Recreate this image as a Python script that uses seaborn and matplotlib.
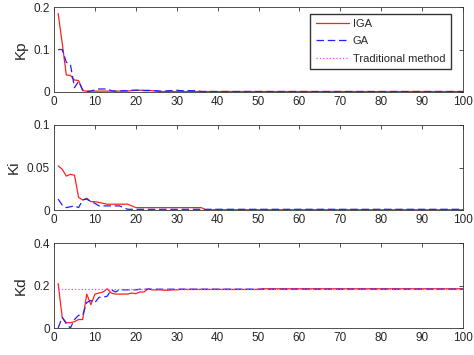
import seaborn as sns
import pandas as pd
import numpy as np
import matplotlib.pyplot as plt
from matplotlib.lines import Line2D

gen = list(range(1, 101))

kp_iga = [0.185, 0.115, 0.04, 0.039, 0.028, 0.027, 0.003, 0.002, 0.002, 0.002,
          0.002, 0.002, 0.002, 0.002, 0.002, 0.002, 0.002, 0.002, 0.003, 0.004,
          0.004, 0.004, 0.004, 0.003, 0.002] + [0.001] * 75
kp_ga = [0.10, 0.10, 0.07, 0.065, 0.01, 0.025, 0.005, 0.001, 0.002, 0.005,
         0.007, 0.007, 0.007, 0.003, 0.002, 0.002, 0.003, 0.003, 0.004, 0.004,
         0.004, 0.003, 0.003, 0.003, 0.003, 0.002, 0.002, 0.003, 0.003, 0.004,
         0.003, 0.003, 0.003, 0.003, 0.003] + [0.001] * 65

ki_iga = [0.052, 0.048, 0.040, 0.042, 0.041, 0.015, 0.012, 0.014, 0.010, 0.010,
          0.009, 0.008, 0.007, 0.007, 0.007, 0.007, 0.007, 0.007, 0.005, 0.003] \
         + [0.003] * 16 + [0.0005] * 64
ki_ga = [0.013, 0.006, 0.003, 0.004, 0.005, 0.003, 0.012, 0.013, 0.010, 0.008,
         0.005, 0.005, 0.005, 0.005, 0.005, 0.005, 0.003, 0.001] + [0.001] * 82

kd_iga = [0.21, 0.05, 0.025, 0.025, 0.03, 0.04, 0.04, 0.16, 0.11, 0.16,
          0.165, 0.17, 0.185, 0.165, 0.16, 0.16, 0.16, 0.16, 0.165, 0.162,
          0.17, 0.17, 0.185, 0.18, 0.18, 0.18, 0.178, 0.178, 0.18, 0.18] \
         + [0.182] * 20 + [0.185] * 50
kd_ga = [0.0, 0.05, 0.02, 0.0, 0.04, 0.06, 0.06, 0.12, 0.13, 0.12,
         0.145, 0.145, 0.15, 0.18, 0.17, 0.18, 0.18, 0.18, 0.18, 0.18] + [0.183] * 80
kd_trad = [0.185] * 100

panels = [
    ('Kp', kp_iga, kp_ga, None, [0, 0.1, 0.2], ['0', '0.1', '0.2']),
    ('Ki', ki_iga, ki_ga, None, [0, 0.05, 0.1], ['0', '0.05', '0.1']),
    ('Kd', kd_iga, kd_ga, kd_trad, [0, 0.2, 0.4], ['0', '0.2', '0.4']),
]

sns.set_style('white')
plt.rcParams['font.family'] = ['Liberation Sans', 'DejaVu Sans']

fig = plt.figure(figsize=(4.74, 3.55), dpi=100)
boxes = [(0.741, 0.980), (0.408, 0.648), (0.076, 0.315)]

for (name, iga, ga, trad, yt, ytl), (b, t) in zip(panels, boxes):
    ax = fig.add_axes([0.114, b, 0.863, t - b])
    df = pd.DataFrame({'Generation': gen, 'IGA': iga, 'GA': ga})
    sns.lineplot(data=df, x='Generation', y='IGA', ax=ax, color='#ff2020', lw=0.9)
    sns.lineplot(data=df, x='Generation', y='GA', ax=ax, color='#2020ff', lw=0.9,
                 linestyle=(0, (6, 3)))
    if trad is not None:
        sns.lineplot(x=gen, y=trad, ax=ax, color='#ff40ff', lw=0.9, linestyle=':')
    ax.set_xlim(0, 100)
    ax.set_ylim(yt[0], yt[-1])
    ax.set_xticks(range(0, 101, 10))
    ax.set_yticks(yt)
    ax.set_yticklabels(ytl)
    ax.set_xlabel('')
    ax.set_ylabel(name, fontsize=11)
    ax.tick_params(direction='in', top=True, right=True, length=3, width=0.6,
                   labelsize=8.5, color='#333333', pad=3)
    for s in ax.spines.values():
        s.set_linewidth(0.6)
        s.set_color('#333333')
    if name == 'Kp':
        handles = [Line2D([], [], color='#ff2020', lw=0.9),
                   Line2D([], [], color='#2020ff', lw=0.9, linestyle=(0, (6, 3))),
                   Line2D([], [], color='#ff40ff', lw=0.9, linestyle=':')]
        ax.legend(handles, ['IGA', 'GA', 'Traditional method'], loc='upper right',
                  fontsize=8, fancybox=False, edgecolor='#333333', framealpha=1,
                  handlelength=3.0, borderpad=0.5, labelspacing=0.65,
                  handletextpad=0.3, bbox_to_anchor=(0.983, 0.99))

fig.savefig('out.png', dpi=100)
